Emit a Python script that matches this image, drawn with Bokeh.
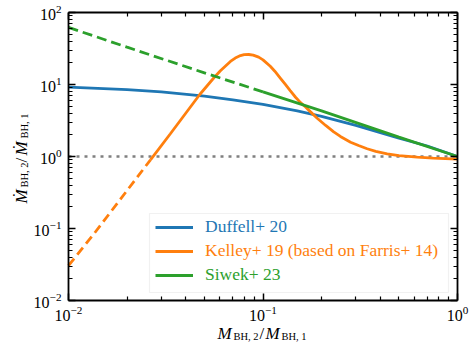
import math
from bokeh.plotting import figure
from bokeh.models import LogAxis, Legend, LegendItem, BoxAnnotation, FixedTicker, Label
from bokeh.embed import file_html
from bokeh.resources import INLINE

# ---------------- data ----------------
duffell_q = [0.01, 0.02, 0.03, 0.05, 0.07, 0.1, 0.15, 0.2, 0.3, 0.5, 0.7, 1.0]
duffell_y = [9.2, 8.5, 7.9, 6.9, 6.1, 5.3, 4.3, 3.6, 2.7, 1.8, 1.4, 1.0]

kelley_q = [0.01, 0.0135, 0.018, 0.0264, 0.0334, 0.0473, 0.0558, 0.0604,
            0.068, 0.072, 0.0766, 0.08, 0.0845, 0.089, 0.095, 0.1, 0.109,
            0.115, 0.123, 0.13, 0.138, 0.147, 0.156, 0.165, 0.175, 0.19,
            0.21, 0.231, 0.25, 0.282, 0.31, 0.343, 0.38, 0.435, 0.5,
            0.621, 0.75, 1.0]
kelley_y = [0.0306, 0.084, 0.232, 0.9, 2.07, 7.26, 12.3, 15.5,
            20.9, 23.3, 25.2, 26.0, 26.1, 25.6, 24.0, 22.0, 17.9,
            15.3, 12.2, 10.1, 8.2, 6.65, 5.6, 4.9, 4.2, 3.4,
            2.7, 2.2, 1.9, 1.58, 1.42, 1.28, 1.18, 1.09, 1.03,
            0.98, 0.95, 0.92]
kelley_solid_from = 0.0264   # dashed below this mass ratio

siwek_q = [0.01, 0.02, 0.05, 0.1, 0.2, 0.5, 1.0]
siwek_y = [62.0, 33.0, 14.5, 7.9, 4.3, 1.86, 1.0]
siwek_solid_from = 0.1       # dashed below this mass ratio

unity = 1.0

x_lim = [0.01, 1.0]
y_lim = [0.01, 100.0]
x_major = [0.01, 0.1, 1.0]
y_major = [0.01, 0.1, 1.0, 10.0, 100.0]

labels = ["Duffell+ 20", "Kelley+ 19 (based on Farris+ 14)", "Siwek+ 23"]
colors = ["#1f77b4", "#ff7f0e", "#2ca02c"]

SERIF = "Liberation Serif"

# ---------------- layout geometry (pixels) ----------------
W, H = 474, 348
BOX_L, BOX_R, BOX_T, BOX_B = 68, 457, 12, 300   # visible axes box

# ranges are widened so that the axes box sits at BOX_* inside a full-canvas frame
lx0, lx1 = math.log10(x_lim[0]), math.log10(x_lim[1])
ly0, ly1 = math.log10(y_lim[0]), math.log10(y_lim[1])
xpp = (lx1 - lx0) / (BOX_R - BOX_L)
ypp = (ly1 - ly0) / (BOX_B - BOX_T)
x_range = (10 ** (lx0 - BOX_L * xpp), 10 ** (lx1 + (W - BOX_R) * xpp))
y_range = (10 ** (ly0 - (H - BOX_B) * ypp), 10 ** (ly1 + BOX_T * ypp))

def minors(majors):
    out = []
    for m in majors[:-1]:
        out += [m * k for k in range(2, 10)]
    return out

# ---------------- figure ----------------
p = figure(width=W, height=H, x_axis_type="log", y_axis_type="log",
           x_range=x_range, y_range=y_range,
           output_backend="svg", toolbar_location=None, min_border=0)
p.grid.visible = False
p.outline_line_color = None
p.background_fill_color = "white"
p.border_fill_color = "white"

def style_axis(ax, majors, bounds, loc, show_labels=True):
    ax.ticker = FixedTicker(ticks=majors, minor_ticks=minors(majors))
    ax.bounds = tuple(bounds)
    ax.fixed_location = loc
    ax.axis_line_color = "black"
    ax.axis_line_width = 1.8
    ax.major_tick_in = 7
    ax.major_tick_out = 0
    ax.minor_tick_in = 4
    ax.minor_tick_out = 0
    ax.major_tick_line_width = 1.5
    ax.minor_tick_line_width = 1.2
    ax.major_label_text_font = SERIF
    if show_labels:
        ax.major_label_text_color = "black"
        ax.major_label_text_font_size = "16px"
    else:
        ax.major_label_text_color = None
        ax.major_label_text_font_size = "1px"
        ax.major_label_standoff = 0

style_axis(p.xaxis[0], x_major, x_lim, y_lim[0])
style_axis(p.yaxis[0], y_major, y_lim, x_lim[0])
p.xaxis[0].major_label_standoff = 5
p.yaxis[0].major_label_standoff = 7

top_ax = LogAxis()
right_ax = LogAxis()
style_axis(top_ax, x_major, x_lim, y_lim[1], False)
style_axis(right_ax, y_major, y_lim, x_lim[1], False)
p.add_layout(top_ax, "above")
p.add_layout(right_ax, "right")

# ---------------- reference line at unity ----------------
p.line(x_lim, [unity, unity], line_color="#808080", line_width=2.4,
       line_dash="3 5", level="underlay")

# ---------------- curves ----------------
LW = 2.8
r_duff = p.line(duffell_q, duffell_y, line_color=colors[0], line_width=LW)

kd_q = [q for q in kelley_q if q <= kelley_solid_from]
kd_y = [y for q, y in zip(kelley_q, kelley_y) if q <= kelley_solid_from]
ks_q = [q for q in kelley_q if q >= kelley_solid_from]
ks_y = [y for q, y in zip(kelley_q, kelley_y) if q >= kelley_solid_from]
p.line(kd_q, kd_y, line_color=colors[1], line_width=LW, line_dash="9 5")
r_kel = p.line(ks_q, ks_y, line_color=colors[1], line_width=LW)

sd_q = [q for q in siwek_q if q <= siwek_solid_from]
sd_y = [y for q, y in zip(siwek_q, siwek_y) if q <= siwek_solid_from]
ss_q = [q for q in siwek_q if q >= siwek_solid_from]
ss_y = [y for q, y in zip(siwek_q, siwek_y) if q >= siwek_solid_from]
p.line(sd_q, sd_y, line_color=colors[2], line_width=LW, line_dash="10 5")
r_siw = p.line(ss_q, ss_y, line_color=colors[2], line_width=LW)

# ---------------- legend (screen units from the canvas bottom-left) ----------------
box = BoxAnnotation(left=149, right=448, bottom=H - 292, top=H - 213,
                    left_units="screen", right_units="screen",
                    top_units="screen", bottom_units="screen",
                    fill_color="white", fill_alpha=0.8,
                    line_color="#d0d0d0", line_width=1.2)
p.add_layout(box)

row_y = [H - 237, H - 261, H - 285]
for lab, col, rend, yy in zip(labels, colors, [r_duff, r_kel, r_siw], row_y):
    lg = Legend(items=[LegendItem(label=lab, renderers=[rend])],
                location=(155, yy), border_line_color=None,
                background_fill_alpha=0.0, glyph_width=38, glyph_height=20,
                label_standoff=12, padding=0, margin=0, spacing=0,
                label_text_font=SERIF, label_text_font_size="17.5px",
                label_text_color=col, label_height=20)
    p.add_layout(lg)

# ---------------- axis titles built from text pieces ----------------
def piece(x, y, text, size, italic=False, angle=0.0):
    lab = Label(x=x, y=y, x_units="screen", y_units="screen", text=text,
                text_font=SERIF, text_font_size=size,
                text_font_style="italic" if italic else "normal",
                text_color="black", angle=angle,
                text_baseline="alphabetic", text_align="left")
    p.add_layout(lab)

# x title: M_BH,2 / M_BH,1
xb = H - 333
piece(217, xb, "M", "17px", True)
piece(233, xb - 3, "BH, 2", "10.5px")
piece(259, xb, "/", "17px")
piece(265, xb, "M", "17px", True)
piece(281, xb - 3, "BH, 1", "10.5px")

# y title: Mdot_BH,2 / Mdot_BH,1 (reads bottom to top)
yb = 21
piece(yb, H - 203, "\u1e40", "17px", True, math.pi / 2)
piece(yb + 3, H - 187, "BH, 2", "10.5px", False, math.pi / 2)
piece(yb, H - 162, "/", "17px", False, math.pi / 2)
piece(yb, H - 155, "\u1e40", "17px", True, math.pi / 2)
piece(yb + 3, H - 138, "BH, 1", "10.5px", False, math.pi / 2)

open("out.html", "w").write(file_html(p, INLINE))
